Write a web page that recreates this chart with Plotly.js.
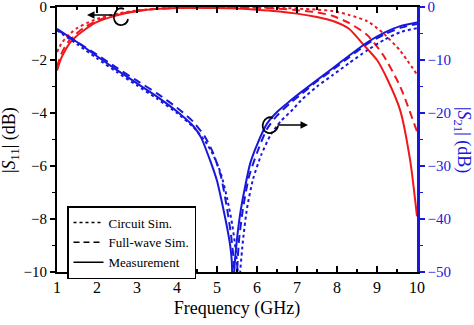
<!DOCTYPE html>
<html><head><meta charset="utf-8">
<script src="https://cdn.plot.ly/plotly-3.0.1.min.js"></script>
<style>html,body{margin:0;padding:0;background:#fff}#c{width:474px;height:325px}</style>
</head><body><div id="c"></div>
<script>
// |S11| (left axis, red)
var s11MeasF = [1,1.1,1.2,1.3,1.45,1.7,1.95,2.3,2.6,3,3.45,4,4.5,5,5.5,6,6.5,7,7.5,7.9,8.3,8.65,9.0,9.25,9.58,9.83,10];
var s11Meas  = [-2.4,-1.95,-1.65,-1.4,-1.15,-0.85,-0.6,-0.4,-0.27,-0.16,-0.08,-0.04,-0.03,-0.04,-0.06,-0.1,-0.16,-0.25,-0.38,-0.53,-0.82,-1.4,-2.0,-2.7,-3.9,-5.8,-7.9];
var s11FwF = [1,1.1,1.2,1.3,1.45,1.7,2,2.3,2.6,3,3.5,4,5,6,6.5,7,7.5,7.9,8.3,8.75,9.15,9.58,10];
var s11Fw  = [-2.25,-1.8,-1.5,-1.28,-1.05,-0.75,-0.52,-0.36,-0.25,-0.14,-0.07,-0.04,-0.02,-0.03,-0.06,-0.12,-0.2,-0.34,-0.6,-1.05,-1.8,-3.0,-4.7];
var s11CirF = [1,1.1,1.2,1.35,1.5,1.75,2,2.5,3,3.5,4,5,6,7,7.5,7.9,8.3,8.75,9.15,9.58,10];
var s11Cir  = [-1.7,-1.4,-1.2,-0.98,-0.8,-0.6,-0.45,-0.25,-0.13,-0.06,-0.03,-0.01,-0.01,-0.06,-0.1,-0.15,-0.3,-0.53,-0.98,-1.65,-2.55];
// |S21| (right axis, blue)
var s21MeasF = [1,1.5,2,2.5,3,3.5,4,4.4,4.6,4.83,5.0,5.15,5.25,5.33,5.37,5.40,5.43,5.47,5.58,5.7,5.83,6.0,6.25,6.5,6.83,7.08,7.5,7.9,8.3,8.75,9.2,9.58,10];
var s21Meas  = [-4.1,-6.6,-9.3,-11.9,-14.4,-16.9,-19.7,-22.4,-24.6,-29,-32.8,-37.8,-41.5,-45,-48,-56,-50,-46,-39,-34,-29.5,-26,-22,-19.8,-17.7,-16.2,-13.8,-11.5,-9.2,-6.7,-4.8,-3.6,-2.9];
var s21FwF = [1,1.5,2,2.5,3,3.5,4,4.4,4.7,4.9,5.1,5.25,5.35,5.42,5.46,5.50,5.55,5.65,5.8,6.0,6.25,6.5,6.85,7.1,7.5,7.9,8.3,8.75,9.2,9.6,10];
var s21Fw  = [-4.3,-6.6,-9.0,-11.5,-13.9,-16.3,-19.0,-21.6,-24.5,-27.5,-32,-38,-43,-48,-56,-50,-44,-38,-32,-27.5,-23,-20.5,-18,-16.5,-14,-11.8,-9.5,-7,-5.1,-3.9,-3.2];
var s21CirF = [1,1.5,2,2.5,3,3.5,4,4.4,4.7,4.9,5.1,5.25,5.38,5.47,5.52,5.55,5.58,5.65,5.75,5.9,6.1,6.35,6.6,6.9,7.1,7.5,7.9,8.3,8.75,9.2,9.6,10];
var s21Cir  = [-4.4,-7.0,-9.7,-12.3,-14.8,-17.3,-20.0,-22.6,-25.3,-27.8,-31.5,-36,-41,-46,-50,-56,-50,-44,-38,-32.5,-28,-24,-21.5,-19.3,-17.6,-15,-12.8,-10.6,-8.2,-6.1,-4.7,-4.0];
var legendNames = ['Circuit Sim.','Full-wave Sim.','Measurement'];

var RED = '#f0181c', BLUE = '#1818dc';
var SERIF = 'Liberation Serif';
var dashS = '8px,5px';

function tr(x, y, color, dash, axis) {
  return {x:x, y:y, type:'scatter', mode:'lines', yaxis:axis, showlegend:false,
    line:{color:color, width:2, dash:dash, shape:'spline', smoothing:0.6}, hoverinfo:'skip'};
}
var data = [
  tr(s21CirF, s21Cir, BLUE, 'dot', 'y2'),
  tr(s21FwF, s21Fw, BLUE, dashS, 'y2'),
  tr(s21MeasF, s21Meas, BLUE, 'solid', 'y2'),
  tr(s11CirF, s11Cir, RED, 'dot', 'y'),
  tr(s11FwF, s11Fw, RED, dashS, 'y'),
  tr(s11MeasF, s11Meas, RED, 'solid', 'y')
];
var legDash = ['dot', '6px,4px', 'solid'];
legendNames.forEach(function(n, i){
  data.push({x:[null], y:[null], type:'scatter', mode:'lines', name:n, showlegend:true,
    line:{color:'#000', width:1.5, dash:legDash[i]}});
});

// pixel -> paper helpers for decorations
var L = 57, R = 417, T = 7, B = 272;
function px(x){ return (x - L) / (R - L); }
function py(y){ return (B - y) / (B - T); }
function loopPath(pts){
  var s = 'M' + px(pts[0][0]) + ',' + py(pts[0][1]);
  for (var i = 1; i < pts.length; i += 3) {
    s += ' C' + [pts[i],pts[i+1],pts[i+2]].map(function(p){return px(p[0]) + ',' + py(p[1]);}).join(' ');
  }
  return s;
}

var layout = {
  width:474, height:325,
  margin:{l:L, r:474-R, t:T, b:325-B},
  paper_bgcolor:'#fff', plot_bgcolor:'#fff',
  font:{family:SERIF, size:15, color:'#000'},
  xaxis:{range:[1,10], dtick:1, tick0:1, showgrid:false, zeroline:false,
    showline:true, linecolor:'#000', linewidth:2, mirror:'ticks',
    ticks:'inside', ticklen:6, tickwidth:1.5, tickcolor:'#000',
    minor:{dtick:0.5, ticks:'inside', ticklen:3, tickwidth:1.5, tickcolor:'#000'},
    tickfont:{family:SERIF, size:16}, ticklabeloverflow:'allow',
    title:{text:'Frequency (GHz)', font:{family:SERIF, size:18}, standoff:6}},
  yaxis:{range:[-10,0], dtick:2, showgrid:false, zeroline:false,
    showline:true, linecolor:'#000', linewidth:2,
    ticks:'outside', ticklen:5, tickwidth:1.5, tickcolor:'#000',
    minor:{dtick:1, ticks:'outside', ticklen:3, tickwidth:1.5, tickcolor:'#000'},
    tickfont:{family:SERIF, size:15}, ticklabeloverflow:'allow'},
  yaxis2:{range:[-50,0], dtick:10, overlaying:'y', side:'right', showgrid:false, zeroline:false,
    showline:true, linecolor:BLUE, linewidth:2.5,
    ticks:'outside', ticklen:5, tickwidth:1.5, tickcolor:BLUE,
    minor:{dtick:5, ticks:'outside', ticklen:3, tickwidth:1.5, tickcolor:BLUE},
    tickfont:{family:SERIF, size:15, color:BLUE}, ticklabeloverflow:'allow'},
  showlegend:true,
  legend:{x:px(67), y:py(206), xanchor:'left', yanchor:'top',
    bgcolor:'#fff', bordercolor:'#000', borderwidth:1.5,
    font:{family:SERIF, size:13}, itemwidth:30, tracegroupgap:0},
  annotations:[
    {xref:'paper', yref:'paper', x:px(10), y:py(140), xanchor:'center', yanchor:'middle',
     text:'|<i>S</i><sub>11</sub>| (dB)', textangle:-90,
     showarrow:false, font:{family:SERIF, size:18, color:'#000'}},
    {xref:'paper', yref:'paper', x:px(463), y:py(140), xanchor:'center', yanchor:'middle',
     text:'|<i>S</i><sub>21</sub>| (dB)', textangle:90,
     showarrow:false, font:{family:SERIF, size:18, color:BLUE}},
    {xref:'paper', yref:'paper', x:px(87), y:py(15), ax:27, ay:0, text:'', showarrow:true,
     arrowhead:2, arrowsize:1, arrowwidth:1.5, arrowcolor:'#000'},
    {xref:'paper', yref:'paper', x:px(308), y:py(125), ax:-32, ay:0, text:'', showarrow:true,
     arrowhead:2, arrowsize:1, arrowwidth:1.5, arrowcolor:'#000'}
  ],
  shapes:[
    {type:'path', xref:'paper', yref:'paper', line:{color:'#000', width:1.8},
     path: loopPath([[124,9],[116,5],[111,18],[116,23],[120,27],[127,25],[128,19]])},
    {type:'path', xref:'paper', yref:'paper', line:{color:'#000', width:1.8},
     path: loopPath([[273,118],[264,114],[259,128],[266,132],[271,135],[277,131],[278,126]])}
  ]
};
Plotly.newPlot('c', data, layout, {displayModeBar:false, staticPlot:true});
</script></body></html>
